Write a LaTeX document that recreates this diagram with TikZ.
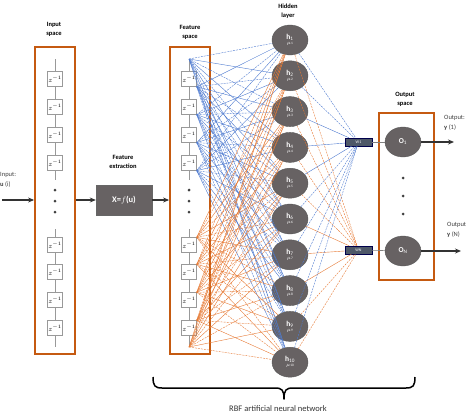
\documentclass[tikz,border=0pt]{standalone}
\usepackage{fontspec}
\setmainfont{Carlito}
\usetikzlibrary{shapes.geometric}
\usetikzlibrary{arrows.meta}

\definecolor{spaceorange}{HTML}{C55A11}
\definecolor{linkblue}{HTML}{4F7BD0}
\definecolor{linkorange}{HTML}{E67A35}
\definecolor{nodegray}{HTML}{676263}
\definecolor{wslate}{HTML}{4E5868}

\begin{document}
\begin{tikzpicture}[x=1pt,y=-1pt,
spacebox/.style={rectangle, draw=spaceorange, line width=1.8pt},
delaybox/.style={rectangle, draw=gray!80, fill=white, minimum size=15pt, inner sep=0pt, font=\fontsize{7.5}{7.5}\selectfont},
delayline/.style={draw=gray!80, line width=0.6pt},
dotnode/.style={circle, fill=black!75, inner sep=0pt, minimum size=3pt},
neuron/.style={ellipse, draw=black!65, fill=nodegray, minimum width=36pt, minimum height=30pt, inner sep=0pt, text=white, align=center, font=\fontsize{7.5}{6}\selectfont},
wbox/.style={rectangle, draw=blue!30!black, fill=wslate, minimum width=27pt, minimum height=8pt, inner sep=0pt, text=white, font=\fontsize{4}{4}\selectfont},
febox/.style={rectangle, draw=black!60, fill=nodegray, minimum width=56pt, minimum height=30pt, text=white, font=\bfseries\fontsize{8.5}{8.5}\selectfont},
spacelabel/.style={align=center, inner sep=0pt, font=\bfseries\fontsize{6.5}{9}\selectfont},
iolabel/.style={align=left, inner sep=0pt, text=black!75, font=\fontsize{6.5}{9.5}\selectfont},
flow/.style={-{Stealth[length=6pt,width=5pt]}, line width=1.4pt, draw=black!80},
bluelink/.style={draw=linkblue, line width=0.4pt},
orangelink/.style={draw=linkorange, line width=0.4pt},
link0/.style={dash pattern=on 2pt off 1pt},
link1/.style={},
outline/.style={draw=gray, line width=0.6pt}
]
\useasboundingbox (0,0) rectangle (474,415);

%Boxes
\node[spacebox, minimum width=40pt, minimum height=307pt] (inbox) at (55,200.5) {};
\node[spacebox, minimum width=40pt, minimum height=307pt] (fsbox) at (190,200.5) {};
\node[spacebox, minimum width=55pt, minimum height=167pt] (outbox) at (406.5,196.5) {};

%Delay lines
\foreach \y [count=\k] in {79,107,135,163,245,272,300,328}{
  \node[delaybox] (in\k) at (55,\y) {$z^{-1}$};
  \node[delaybox] (fs\k) at (189,\y) {$z^{-1}$};
}
\coordinate (intop) at (55,59);
\coordinate (inmid1) at (55,180);
\coordinate (inmid2) at (55,229);
\coordinate (inbot) at (55,347);
\coordinate (fstop) at (189,59);
\coordinate (fsmid1) at (189,180);
\coordinate (fsmid2) at (189,229);
\coordinate (fsbot) at (189,347);
\draw[delayline] (intop) -- (in1) -- (in2) -- (in3) -- (in4) -- (inmid1);
\draw[delayline] (inmid2) -- (in5) -- (in6) -- (in7) -- (in8) -- (inbot);
\draw[delayline] (fstop) -- (fs1) -- (fs2) -- (fs3) -- (fs4) -- (fsmid1);
\draw[delayline] (fsmid2) -- (fs5) -- (fs6) -- (fs7) -- (fs8) -- (fsbot);
\foreach \y [count=\k] in {190,201,212}{
  \node[dotnode] (indot\k) at (55,\y) {};
  \node[dotnode] (fsdot\k) at (189,\y) {};
}

%Feature extraction
\node[febox] (fe) at (124,200) {X=$f$(u)};

%Hidden layer
\foreach \i in {1,...,10}{
  \node[neuron] (h\i) at (290,{40+35.8*(\i-1)}) {\textbf{h}\textsubscript{\i}\\[-1pt]{\fontsize{3.5}{4}\selectfont$\mu$\i}};
}

%Weights and outputs
\node[wbox] (w1) at (358.5,142) {W1};
\node[wbox] (wn) at (358.5,250) {WN};
\node[neuron] (o1) at (403,142) {\textbf{O}\textsubscript{1}};
\node[neuron] (on) at (403,251) {\textbf{O}\textsubscript{N}};
\foreach \y [count=\k] in {178,196,214}
  \node[dotnode] (outdot\k) at (403,\y) {};

%Lines
\foreach \s [count=\k] in {fstop,fs1.south east,fs2.south east,fs3.south east,fs4.south east}
  \foreach \j in {1,...,10}{
    \pgfmathtruncatemacro\pat{mod(\k+\j,2)}
    \draw[bluelink, link\pat] (\s) -- (h\j);
  }
\foreach \s [count=\k] in {fs5.north east,fs6.north east,fs7.north east,fs8.north east,fsbot}
  \foreach \j in {1,...,10}{
    \pgfmathtruncatemacro\pat{mod(\k+\j+1,2)}
    \draw[orangelink, link\pat] (\s) -- (h\j);
  }
\foreach \j in {1,...,10}{
  \pgfmathtruncatemacro\pa{(\j>2)&&(\j<6)}
  \pgfmathtruncatemacro\pb{(\j>5)&&(\j<9)}
  \draw[bluelink, link\pa] (h\j) -- (w1);
  \draw[orangelink, link\pb] (h\j) -- (wn);
}
\draw[outline] (w1) -- (o1);
\draw[outline] (wn) -- (on);

%Arrows
\coordinate (uin) at (2,200);
\coordinate (y1end) at (454,142);
\coordinate (ynend) at (461,251);
\draw[flow] (uin) -- (inbox.west |- uin);
\draw[flow] (inbox.east |- fe.west) -- (fe.west);
\draw[flow] (fe.east) -- (fsbox.west |- fe.east);
\draw[flow] (o1.east) -- (y1end);
\draw[flow] (on.east) -- (ynend);

%Labels
\node[spacelabel] (inlabel) at (54,29) {Input\\space};
\node[spacelabel] (felabel) at (123,162) {Feature\\extraction};
\node[spacelabel] (fslabel) at (190,32) {Feature\\space};
\node[spacelabel] (hidlabel) at (288,11) {Hidden\\layer};
\node[spacelabel] (outlabel) at (405,99) {Output\\space};
\node[iolabel, anchor=west] (ulabel) at (0,180) {Input:\\\textbf{u} (i)};
\node[iolabel, anchor=west] (y1label) at (444,123) {Output:\\\textbf{y} (1)};
\node[iolabel, anchor=west] (ynlabel) at (447,230) {Output\\\textbf{y} (N)};

%Brace
\draw[line width=1.5pt, line join=round] (153,377) .. controls (153,386) and (155,388) .. (162,388) -- (275,388)
  .. controls (282,388) and (284,390) .. (284,399) .. controls (284,390) and (286,388) .. (293,388) -- (406,388)
  .. controls (413,388) and (415,386) .. (415,377);
\node[text=black!80, font=\fontsize{8.5}{8.5}\selectfont, inner sep=0pt] (rbflabel) at (278,409) {RBF artificial neural network};
\end{tikzpicture}
\end{document}
